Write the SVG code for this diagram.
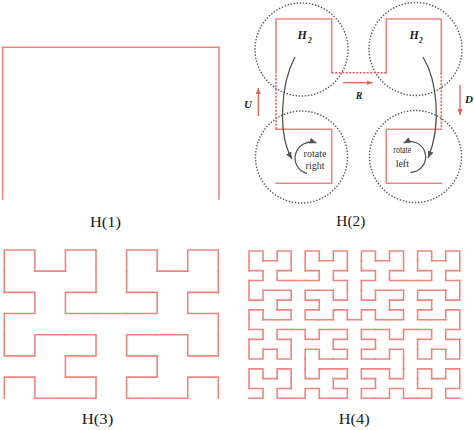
<svg xmlns="http://www.w3.org/2000/svg" width="474" height="430" viewBox="0 0 474 430">
<style>
.c{fill:none;stroke:#ee8680;stroke-width:1.6;stroke-linecap:square;stroke-linejoin:miter}
.n{vector-effect:non-scaling-stroke}
.d{fill:none;stroke:#e65a52;stroke-width:1.6;stroke-dasharray:2 1.5}
.circ{fill:none;stroke:#555;stroke-width:1.4;stroke-dasharray:1.4 1.7}
.lbl{font-family:"Liberation Serif",serif;font-size:15px;fill:#1a1a1a;text-anchor:middle}
.bi{font-family:"Liberation Serif",serif;font-weight:bold;font-style:italic;fill:#222}
.rt{font-family:"Liberation Serif",serif;font-size:10px;fill:#333;text-anchor:middle}
.ga{fill:none;stroke:#555;stroke-width:1.3}
.ra{fill:none;stroke:#e8605a;stroke-width:1.3}
</style>
<defs>
<marker id="ahr" markerUnits="userSpaceOnUse" markerWidth="6" markerHeight="5" refX="6" refY="2.5" orient="auto"><path d="M0,0L6,2.5L0,5z" fill="#e8605a"/></marker>
<marker id="ahg" markerUnits="userSpaceOnUse" markerWidth="7" markerHeight="6" refX="7" refY="3" orient="auto"><path d="M0,0L7,3L0,6z" fill="#555"/></marker>
<path id="h1u" class="c n" d="M0,0V1H1V0"/>
<g id="h2u">
<use href="#h1u" transform="matrix(0,1,1,0,0,0)"/>
<use href="#h1u" transform="translate(0,2)"/>
<use href="#h1u" transform="translate(2,2)"/>
<use href="#h1u" transform="matrix(0,-1,-1,0,3,1)"/>
<path class="c n" d="M0,1V2M1,2H2M3,2V1"/>
</g>
<g id="h3u">
<use href="#h2u" transform="matrix(0,1,1,0,0,0)"/>
<use href="#h2u" transform="translate(0,4)"/>
<use href="#h2u" transform="translate(4,4)"/>
<use href="#h2u" transform="matrix(0,-1,-1,0,7,3)"/>
<path class="c n" d="M0,3V4M3,4H4M7,4V3"/>
</g>
<g id="h4u">
<use href="#h3u" transform="matrix(0,1,1,0,0,0)"/>
<use href="#h3u" transform="translate(0,8)"/>
<use href="#h3u" transform="translate(8,8)"/>
<use href="#h3u" transform="matrix(0,-1,-1,0,15,7)"/>
<path class="c n" d="M0,7V8M7,8H8M15,8V7"/>
</g>
</defs>
<rect width="474" height="430" fill="#fff"/>

<g id="panel-h1">
<path class="c" d="M2.7,199V47.3H219V199"/>
<text class="lbl" x="105.5" y="227.3" textLength="31" lengthAdjust="spacingAndGlyphs">H(1)</text>
</g>

<g id="panel-h2">
<g id="circles">
<circle class="circ" cx="301.5" cy="49.5" r="46.5"/>
<circle class="circ" cx="415.5" cy="49" r="46.5"/>
<circle class="circ" cx="301.5" cy="157" r="46"/>
<circle class="circ" cx="415.5" cy="156.5" r="46"/>
</g>
<g id="block-tl"><path class="c" d="M276,72.7V19H331.7V72.7"/>
<text class="bi" x="297.5" y="38.5" font-size="12">H<tspan x="308" y="43.3" font-size="7.5">2</tspan></text></g>
<g id="block-tr"><path class="c" d="M386.3,72.7V19H441.3V72.7"/>
<text class="bi" x="409.5" y="38.5" font-size="12">H<tspan x="419" y="43.3" font-size="7.5">2</tspan></text></g>
<g id="block-bl"><path class="c" d="M276,183.3H331.7V129.3H276"/>
<text class="rt" x="315" y="157.3">rotate</text>
<text class="rt" x="315" y="168.5">right</text></g>
<g id="block-br"><path class="c" d="M441.3,129.3H386.3V183.3H441.3"/>
<text class="rt" x="402.3" y="153.3" textLength="18" lengthAdjust="spacingAndGlyphs">rotate</text>
<text class="rt" x="402.3" y="166.5">left</text></g>
<g id="connectors">
<path class="d" d="M276,129.3V72.7"/>
<path class="d" d="M331.7,72.7H386.3"/>
<path class="d" d="M441.3,72.7V129.3"/>
<path class="ra" d="M258.3,116V88" marker-end="url(#ahr)"/>
<path class="ra" d="M343,82.7H372.5" marker-end="url(#ahr)"/>
<path class="ra" d="M460,85V115" marker-end="url(#ahr)"/>
<path class="ga" d="M295,57C280,85 278,135 292,159" marker-end="url(#ahg)"/>
<path class="ga" d="M423,57C437,80 442,125 428,158" marker-end="url(#ahg)"/>
<path class="ga" d="M306.9,173.5A16,16 0 1 1 316.5,143" marker-end="url(#ahg)"/>
<path class="ga" d="M410.5,172.5A15.5,15.5 0 1 0 403.5,143" marker-end="url(#ahg)"/>
</g>
<text class="bi" x="248" y="108" font-size="11" text-anchor="middle">U</text>
<text class="bi" x="359" y="99" font-size="10" text-anchor="middle">R</text>
<text class="bi" x="465" y="103" font-size="11">D</text>
<text class="lbl" x="350.8" y="226" textLength="29" lengthAdjust="spacingAndGlyphs">H(2)</text>
</g>

<g id="panel-h3">
<g transform="matrix(30.57,0,0,-21.19,4.3,398.3)"><use href="#h3u"/></g>
<text class="lbl" x="97.5" y="424" textLength="31.5" lengthAdjust="spacingAndGlyphs">H(3)</text>
</g>

<g id="panel-h4">
<g transform="matrix(14.05,0,0,-9.82,249,398.3)"><use href="#h4u"/></g>
<text class="lbl" x="354.2" y="424" textLength="31" lengthAdjust="spacingAndGlyphs">H(4)</text>
</g>
</svg>
